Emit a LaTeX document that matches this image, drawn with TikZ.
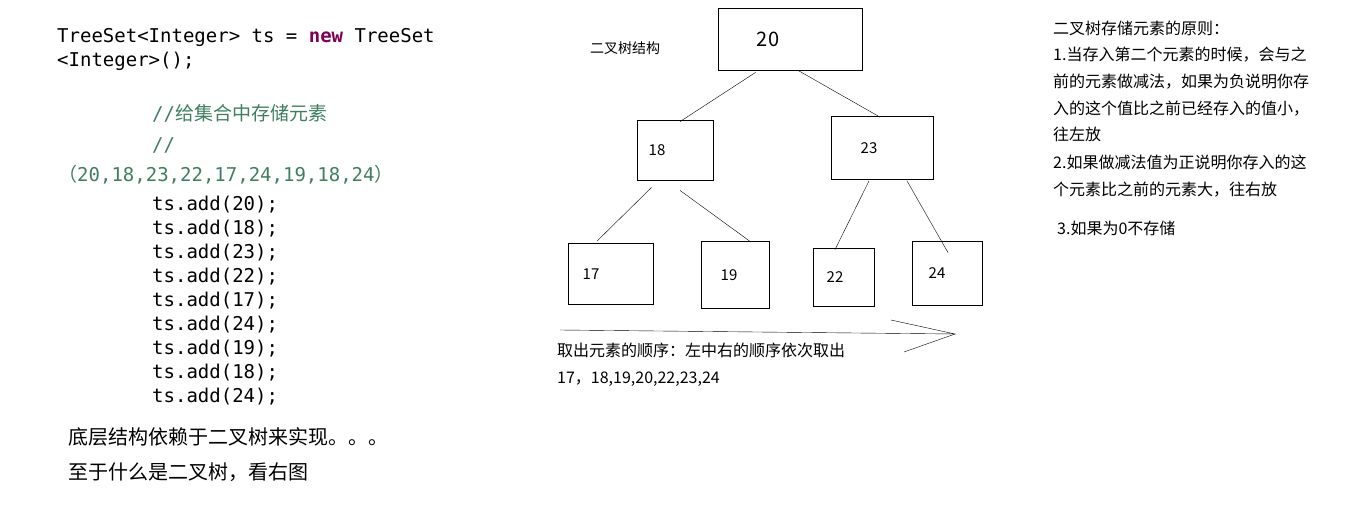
\documentclass[tikz,border=0pt]{standalone}
\usepackage{fontspec}
\setmonofont{DejaVu Sans Mono}
\newfontfamily\cjk{Noto Sans CJK SC}
\definecolor{kwcol}{HTML}{7F0055}
\definecolor{cmtcol}{HTML}{3F7F5F}
\begin{document}
\begin{tikzpicture}[x=1pt,y=-1pt]
\tikzstyle{box} = [draw,thick,inner sep=0pt]
\tikzstyle{code} = [anchor=base west,inner sep=0pt,font=\ttfamily\fontsize{19}{19}\selectfont]
\tikzstyle{note} = [anchor=base west,inner sep=0pt,font=\cjk\fontsize{16}{16}\selectfont]
\tikzstyle{num} = [font=\cjk\fontsize{15}{15}\selectfont]

\fill[white] (0,0) rectangle (1360,524);

% code on the left
\node[code] (c1) at (57,43) {TreeSet<Integer> ts = \textcolor{kwcol}{\textbf{new}} TreeSet};
\node[code] (c2) at (57,67) {<Integer>();};
\node[code,text=cmtcol] (c3) at (152,121) {//\cjk 给集合中存储元素};
\node[code,text=cmtcol] (c4) at (152,151) {//};
\node[code,text=cmtcol] (c5) at (58,182) {{\cjk（}20,18,23,22,17,24,19,18,24{\cjk）}};
\foreach \v [count=\i from 0] in {20,18,23,22,17,24,19,18,24}
  \node[code] (a\i) at (152,210+24*\i) {ts.add(\v);};
\node[note,font=\cjk\fontsize{20}{20}\selectfont] (b1) at (68,444) {底层结构依赖于二叉树来实现。。。};
\node[note,font=\cjk\fontsize{20}{20}\selectfont] (b2) at (68,479) {至于什么是二叉树，看右图};

% the tree
\node[note,font=\cjk\fontsize{14}{14}\selectfont] (title) at (590,54) {二叉树结构};
\node[box,minimum width=144,minimum height=62,font=\cjk\fontsize{20}{20}\selectfont] (n20) at (790,39) {\hspace*{-44pt}20};
\node[box,minimum width=76,minimum height=60,num] (n18) at (675,150) {\hspace*{-36pt}18};
\node[box,minimum width=102,minimum height=63,num] (n23) at (882,148) {\hspace*{-26pt}23};
\node[box,minimum width=85,minimum height=61,num] (n17) at (611,274) {\hspace*{-40pt}17};
\node[box,minimum width=68,minimum height=67,num] (n19) at (735,275) {\hspace*{-12pt}19};
\node[box,minimum width=61,minimum height=58,num] (n22) at (844,277) {\hspace*{-18pt}22};
\node[box,minimum width=70,minimum height=64,num] (n24) at (947,273) {\hspace*{-20pt}24};
\draw (n20.south west)++(38,2) coordinate (p1) (n18.north)++(5,2) coordinate (q1);
\draw (p1) -- (q1);
\draw (n20.south)++(8,0) coordinate (p2) (n23.north)++(-2,1) coordinate (q2);
\draw (p2) -- (q2);
\draw (n18.south west)++(15,7) coordinate (p3) (n17.north)++(-14,-2) coordinate (q3);
\draw (p3) -- (q3);
\draw (n18.south)++(5,10) coordinate (p4) (n19.north)++(16,1) coordinate (q4);
\draw (p4) -- (q4);
\draw (n23.south)++(-13,1) coordinate (p5) (n22.north)++(-9,2) coordinate (q5);
\draw (p5) -- (q5);
\draw (n23.south)++(25,1) coordinate (p6) (n24.north)++(1,12) coordinate (q6);
\draw (p6) -- (q6);

% order arrow
\coordinate (s) at (560,330);
\coordinate (t) at (955,334);
\draw (s) -- (t) -- (891,320);
\draw (t) -- (904,352);
\node[note] (o1) at (557,356) {取出元素的顺序：左中右的顺序依次取出};
\node[note] (o2) at (557,383) {17，18,19,20,22,23,24};

% rules
\node[note] (r0) at (1053,35) {二叉树存储元素的原则：};
\node[note] (r1) at (1053,61) {1.当存入第二个元素的时候，会与之};
\node[note] (r2) at (1053,88) {前的元素做减法，如果为负说明你存};
\node[note] (r3) at (1053,115) {入的这个值比之前已经存入的值小，};
\node[note] (r4) at (1053,141) {往左放};
\node[note] (r5) at (1053,168) {2.如果做减法值为正说明你存入的这};
\node[note] (r6) at (1053,195) {个元素比之前的元素大，往右放};
\node[note] (r7) at (1057,234) {3.如果为0不存储};
\end{tikzpicture}
\end{document}
